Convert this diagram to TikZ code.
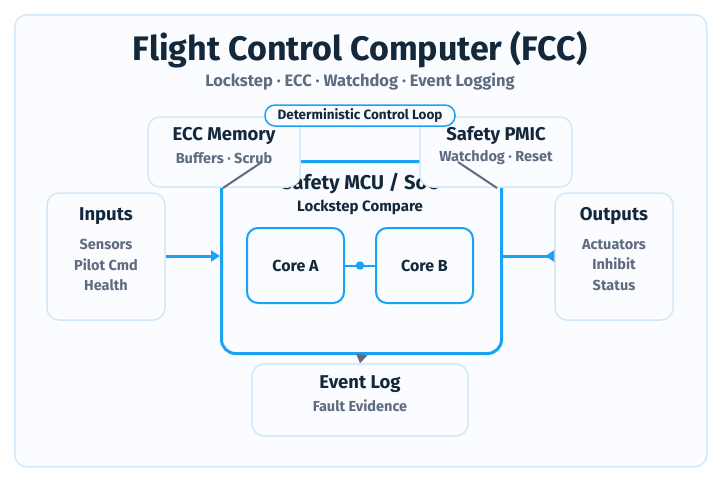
\documentclass[tikz,border=0pt]{standalone}
\usepackage{fontspec}
\setmainfont{Fira Sans}
\usetikzlibrary{arrows.meta}
\definecolor{navy}{HTML}{14283C}
\definecolor{slate}{HTML}{5E6B80}
\definecolor{azure}{HTML}{1AA3F5}
\definecolor{pale}{HTML}{D2E8FA}
\definecolor{paper}{HTML}{FAFCFF}
\tikzset{
  panel/.style={draw=pale,line width=1.5pt,fill=paper,rounded corners=12pt},
  core/.style={draw=azure,line width=2pt,fill=paper,rounded corners=11pt},
  head/.style={font=\bfseries\fontsize{18.5}{20}\selectfont,text=navy},
  sub/.style={font=\bfseries\fontsize{14.5}{20.5}\selectfont,text=slate,align=center},
  tick/.style={slate,line width=2pt}
}
\begin{document}
\begin{tikzpicture}[x=1pt,y=-1pt]
\fill[white] (0,0) rectangle (720,480);
\node[panel,minimum width=692,minimum height=452,anchor=north west] (frame) at (14,14) {};
\node[font=\bfseries\fontsize{34}{38}\selectfont,text=navy] (title) at (360,50) {Flight Control Computer (FCC)};
\node[sub,font=\bfseries\fontsize{16.5}{19}\selectfont] (subtitle) at (360,82) {Lockstep · ECC · Watchdog · Event Logging};
% main controller
\node[core,line width=3pt,rounded corners=14pt,minimum width=280,minimum height=192,anchor=north west] (mcu) at (220,160) {};
\node[head,font=\bfseries\fontsize{20}{22}\selectfont] (mcut) at (360,184) {Safety MCU / SoC};
\node[font=\bfseries\fontsize{15}{17}\selectfont,text=navy] (mcus) at (360,207) {Lockstep Compare};
\node[core,minimum width=97,minimum height=75,font=\bfseries\fontsize{16}{18}\selectfont,text=navy] (corea) at (295.5,265.5) {Core A};
\node[core,minimum width=97,minimum height=75,font=\bfseries\fontsize{16}{18}\selectfont,text=navy] (coreb) at (424.5,265.5) {Core B};
\draw[azure,line width=2pt] (corea) -- (coreb);
\fill[azure] (360,265.5) circle (4.2);
% side blocks
\node[panel,minimum width=152,minimum height=70] (ecc) at (224,152) {};
\node[head] at (224,136) {ECC Memory};
\node[sub] at (224,158) {Buffers · Scrub};
\node[panel,minimum width=152,minimum height=70] (pmic) at (496,152) {};
\node[head] at (496,136) {Safety PMIC};
\node[sub] at (496,158) {Watchdog · Reset};
\draw[tick] (262,162) -- (223,188);
\draw[tick] (458,162) -- (497,188);
\node[draw=azure,line width=1.5pt,fill=paper,rounded corners=10pt,minimum width=190,minimum height=21,font=\bfseries\fontsize{13.5}{15}\selectfont,text=navy] (loop) at (360,115.5) {Deterministic Control Loop};
\node[panel,minimum width=118,minimum height=127] (inputs) at (106,256.5) {};
\node[head] at (106,216) {Inputs};
\node[sub] at (106,265) {Sensors\\Pilot Cmd\\Health};
\node[panel,minimum width=118,minimum height=127] (outputs) at (614,256.5) {};
\node[head] at (614,216) {Outputs};
\node[sub] at (614,265) {Actuators\\Inhibit\\Status};
\node[panel,minimum width=216,minimum height=72] (log) at (360,400) {};
\node[head] at (360,384) {Event Log};
\node[sub] at (360,406) {Fault Evidence};
\draw[azure,line width=3pt,-{Triangle[length=9pt,width=11pt]}] (inputs.east |- 0,256) -- (mcu.west |- 0,256);
\draw[azure,line width=3pt,-{Triangle[length=9pt,width=11pt,reversed]}] (mcu.east |- 0,256) -- (outputs.west |- 0,256);
\draw[slate,line width=2pt,-{Triangle[length=9pt,width=11pt]}] (mcu.south) -- (log.north);
\end{tikzpicture}
\end{document}
